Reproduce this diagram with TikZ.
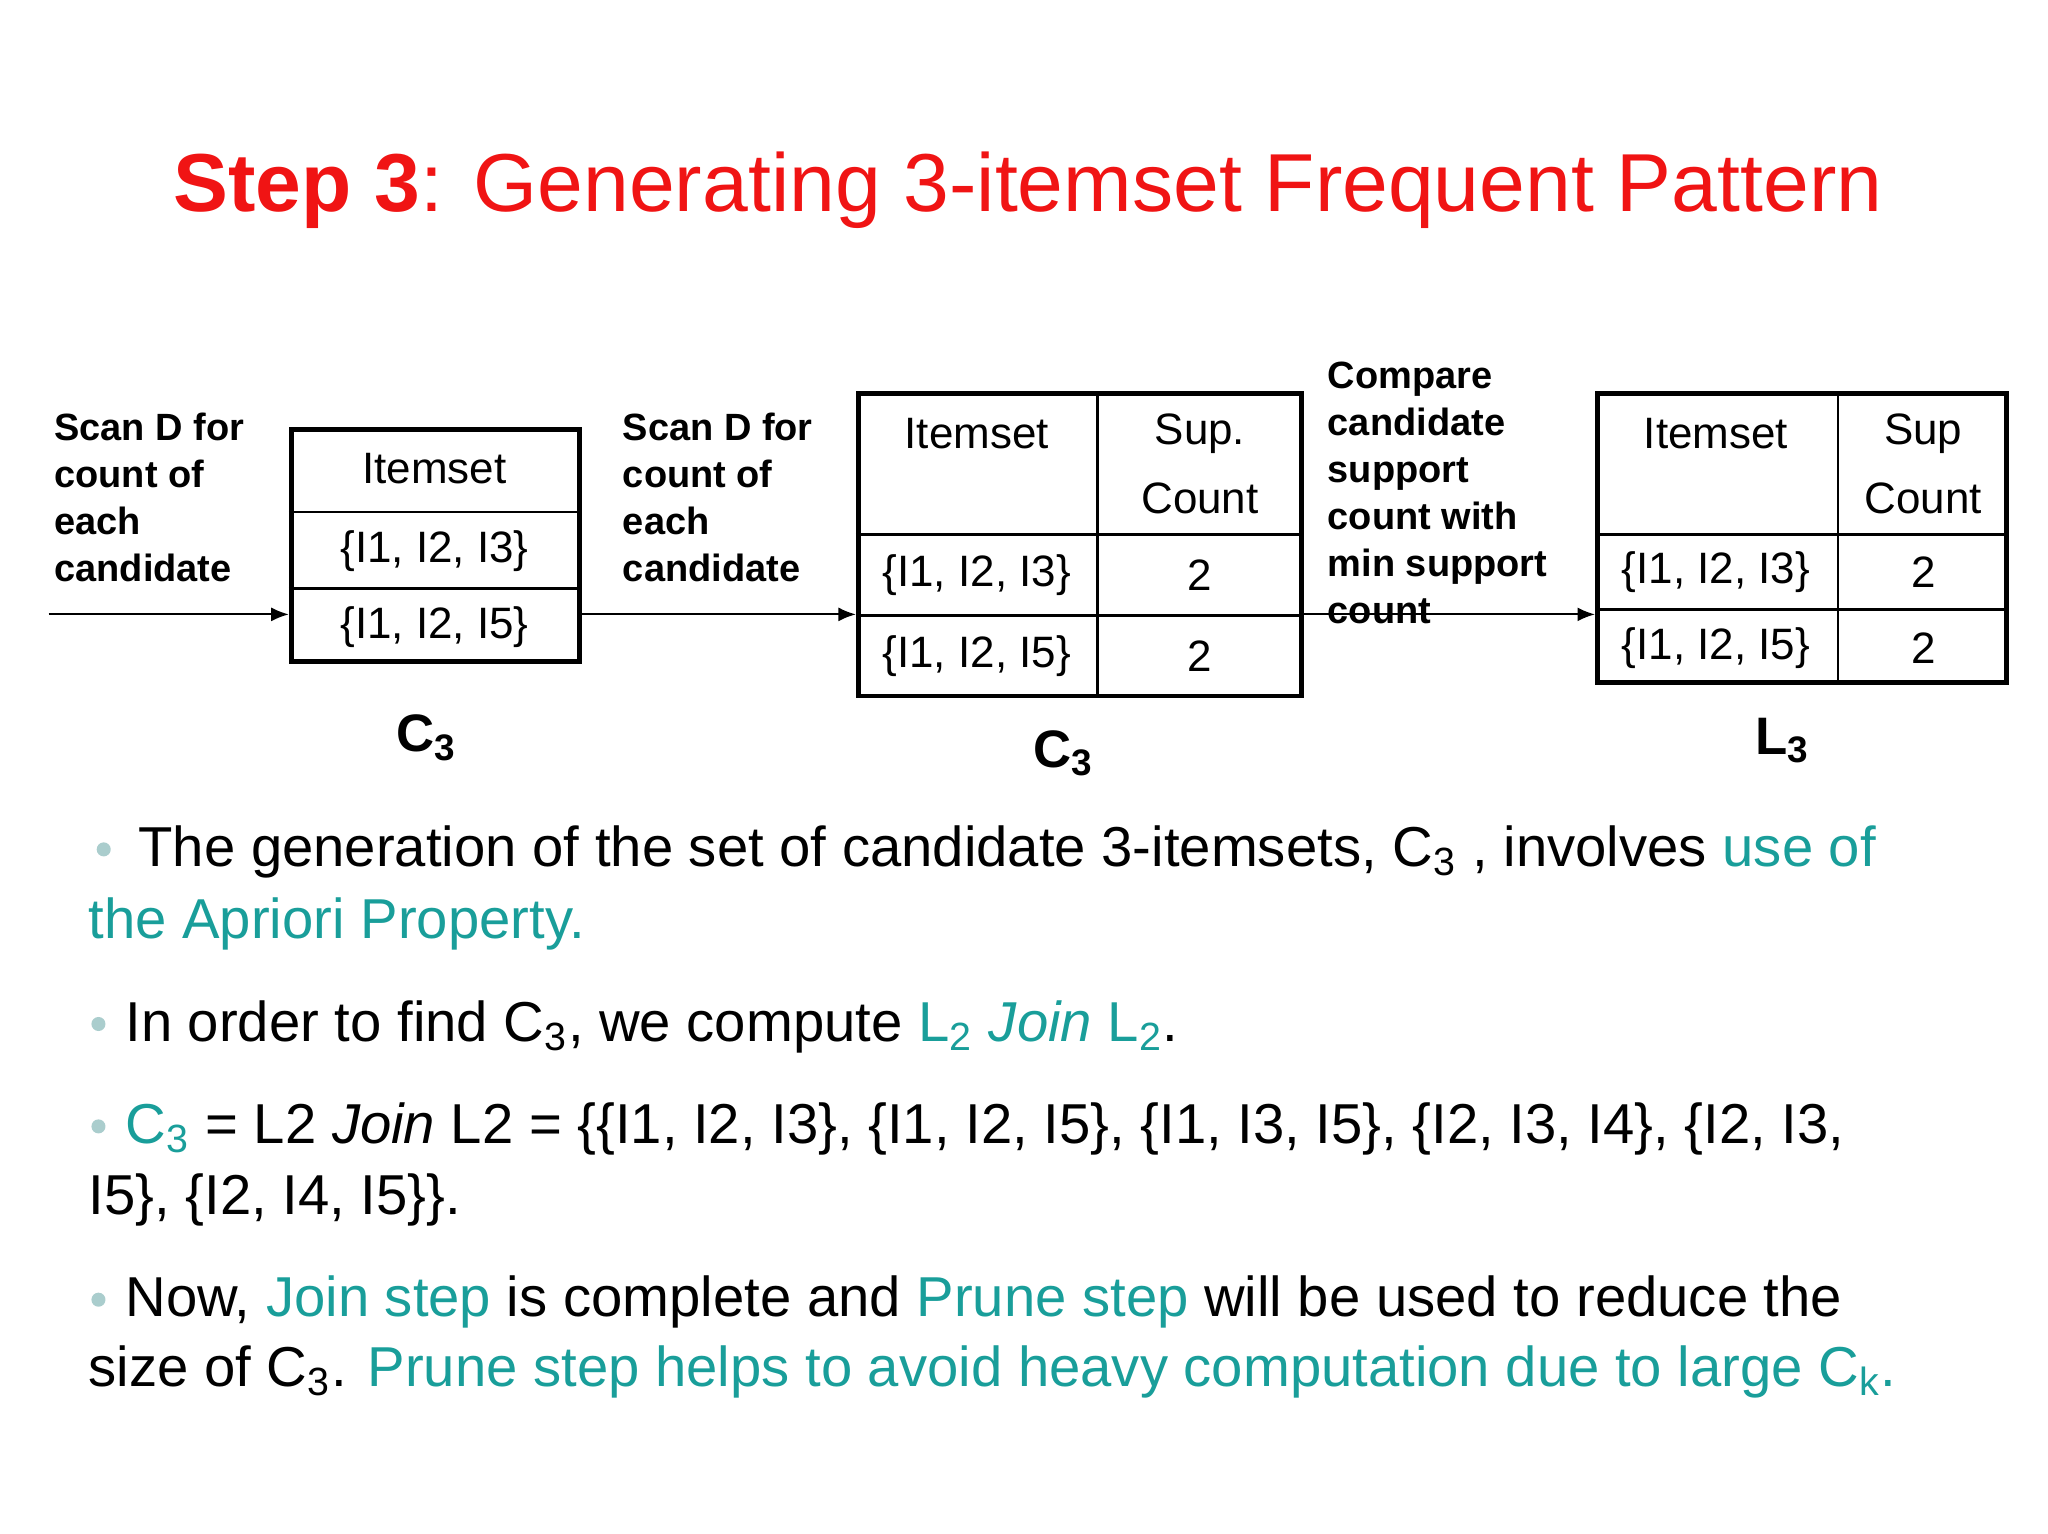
\documentclass[tikz,border=0pt]{standalone}
\usepackage{fontspec}
\setmainfont{Liberation Sans}
\usetikzlibrary{arrows.meta}
\definecolor{ttl}{RGB}{240,20,20}
\definecolor{tl}{RGB}{25,158,154}
\definecolor{bul}{RGB}{170,205,205}
\newcommand{\sbs}[1]{\textsubscript{#1}}
\begin{document}
\begin{tikzpicture}[x=0.013128cm,y=-0.013128cm,
  tbl/.style={font=\fontsize{12.5}{15}\selectfont},
  lbl/.style={font=\bfseries\fontsize{10.8}{13.4}\selectfont,align=left,anchor=north west},
  capl/.style={font=\bfseries\fontsize{15}{18}\selectfont},
  txt/.style={font=\fontsize{16}{19}\selectfont,anchor=base west,inner sep=0pt},
  dot/.style={circle,fill=bul,inner sep=0pt,minimum size=4pt},
  arr/.style={-{Latex[length=5pt,width=4pt]},line width=0.6pt},
  outer/.style={line width=1.4pt},
  inner/.style={line width=0.8pt}]
\useasboundingbox (0,0) rectangle (1560,1168);
\node[font=\fontsize{23.4}{28}\selectfont,text=ttl] (title) at (783,145) {\textbf{Step 3}: Generating 3-itemset Frequent Pattern};
% table 1
\node[outer,draw,minimum width=2.877cm,minimum height=2.326cm,anchor=north west] (t1) at (220,325) {};
\draw[inner] (220,390) -- (443,390);
\draw[inner] (220,448) -- (443,448);
\node[tbl] (t1h) at (331,357) {Itemset};
\node[tbl] (t1a) at (331,420) {\{I1, I2, I3\}};
\node[tbl] (t1b) at (331,478) {\{I1, I2, I5\}};
\node[capl] (c1) at (325,562) {C\sbs{3}};
% table 2
\node[outer,draw,minimum width=4.427cm,minimum height=3.022cm,anchor=north west] (t2) at (652,298) {};
\draw[inner] (652,407) -- (993,407);
\draw[inner] (652,469) -- (993,469);
\draw[inner] (836,298) -- (836,532);
\node[tbl] (t2h) at (744,330) {Itemset};
\node[tbl] (t2s) at (914,330) {Sup.};
\node[tbl] (t2c) at (914,380) {Count};
\node[tbl] (t2a) at (744,438) {\{I1, I2, I3\}};
\node[tbl] (t2b) at (744,500) {\{I1, I2, I5\}};
\node[tbl] (t2a2) at (914,438) {2};
\node[tbl] (t2b2) at (914,500) {2};
\node[capl] (c2) at (810,574) {C\sbs{3}};
% table 3
\node[outer,draw,minimum width=4.085cm,minimum height=2.89cm,anchor=north west] (t3) at (1215,298) {};
\draw[inner] (1215,407) -- (1530,407);
\draw[inner] (1215,464) -- (1530,464);
\draw[inner] (1400,298) -- (1400,522);
\node[tbl] (t3h) at (1307,330) {Itemset};
\node[tbl] (t3s) at (1465,330) {Sup};
\node[tbl] (t3c) at (1465,380) {Count};
\node[tbl] (t3a) at (1307,436) {\{I1, I2, I3\}};
\node[tbl] (t3b) at (1307,494) {\{I1, I2, I5\}};
\node[tbl] (t3a2) at (1465,436) {2};
\node[tbl] (t3b2) at (1465,494) {2};
\node[capl] (c3) at (1358,564) {L\sbs{3}};
% labels
\node[lbl] (l1) at (32,305) {Scan D for\\count of\\each\\candidate};
\node[lbl] (l2) at (465,305) {Scan D for\\count of\\each\\candidate};
\node[lbl] (l3) at (1002,266) {Compare\\candidate\\support\\count with\\min support\\count};
% arrows
\coordinate (s0) at (37,468);
\draw[arr] (s0) -- (t1.west|-s0);
\draw[arr] (t1.east|-s0) -- (t2.west|-s0);
\draw[arr] (t2.east|-s0) -- (t3.west|-s0);
% bullets
\node[dot] (b1) at (79,647) {};
\node[dot] (b2) at (75,780) {};
\node[dot] (b3) at (75,858) {};
\node[dot] (b4) at (75,990) {};
\node[txt] (x1) at (105,660) {The generation of the set of candidate 3-itemsets, C\sbs{3} , involves \textcolor{tl}{use of}};
\node[txt] (x2) at (67,715) {\textcolor{tl}{the Apriori Property.}};
\node[txt] (x3) at (95,793) {In order to find C\sbs{3}, we compute \textcolor{tl}{L\sbs{2} \textit{Join} L\sbs{2}}.};
\node[txt] (x4) at (95,871) {\textcolor{tl}{C\sbs{3}} = L2 \textit{Join} L2 = \{\{I1, I2, I3\}, \{I1, I2, I5\}, \{I1, I3, I5\}, \{I2, I3, I4\}, \{I2, I3,};
\node[txt] (x5) at (67,925) {I5\}, \{I2, I4, I5\}\}.};
\node[txt] (x6) at (95,1003) {Now, \textcolor{tl}{Join step} is complete and \textcolor{tl}{Prune step} will be used to reduce the};
\node[txt] (x7) at (67,1056) {size of C\sbs{3}. \textcolor{tl}{Prune step helps to avoid heavy computation due to large C\sbs{k}.}};
\end{tikzpicture}
\end{document}
